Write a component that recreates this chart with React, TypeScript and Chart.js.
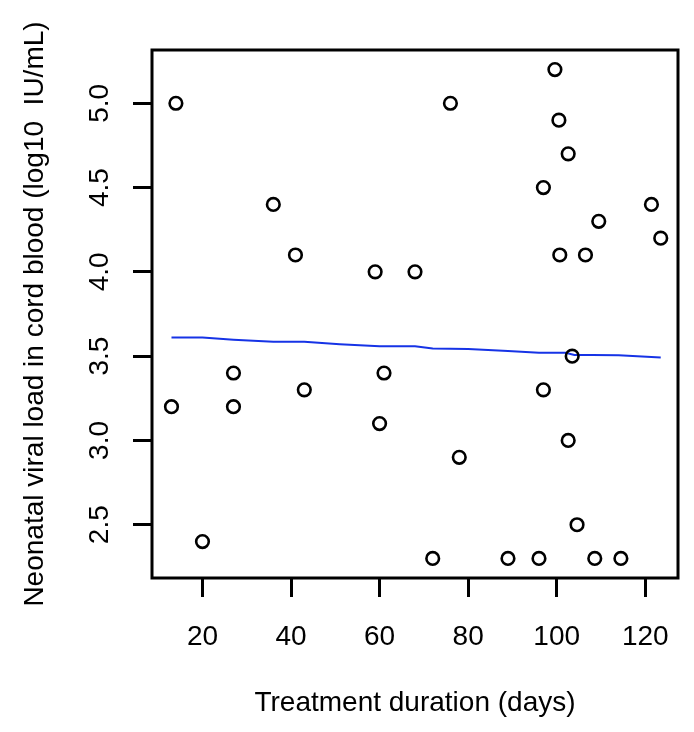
import React, { useEffect, useRef } from "react";
import { Chart, registerables } from "chart.js";

Chart.register(...registerables);

// Treatment duration (days) and neonatal viral load (log10 IU/mL)
const durationDays = [
  14, 13, 20, 27, 27, 36, 41, 43, 59, 61, 60, 68, 72, 76, 78, 89,
  96, 97, 97, 99.6, 100.5, 100.7, 102.6, 102.6, 103.5, 104.6, 106.5, 108.6, 109.5, 114.5, 121.4, 123.5,
];
const viralLoad = [
  5.0, 3.2, 2.4, 3.4, 3.2, 4.4, 4.1, 3.3, 4.0, 3.4, 3.1, 4.0, 2.3, 5.0, 2.9, 2.3,
  2.3, 4.5, 3.3, 5.2, 4.9, 4.1, 4.7, 3.0, 3.5, 2.5, 4.1, 2.3, 4.3, 2.3, 4.4, 4.2,
];

// Smoothed fit line
const smoothX = [13, 20, 27, 36, 43, 51, 60, 68, 72, 80, 89, 96, 102, 104, 108, 114, 123.5];
const smoothY = [3.61, 3.61, 3.597, 3.585, 3.585, 3.57, 3.558, 3.558, 3.545, 3.543, 3.53, 3.52, 3.52, 3.507, 3.507, 3.505, 3.492];

const xTicks = [20, 40, 60, 80, 100, 120];
const yTicks = [2.5, 3.0, 3.5, 4.0, 4.5, 5.0];

const xTitle = "Treatment duration (days)";
const yTitle = "Neonatal viral load in cord blood (log10  IU/mL)";

const FONT = "'Liberation Sans', Arial, Helvetica, sans-serif";

const boxPlugin = {
  id: "rbox",
  afterDraw(chart: any) {
    const { ctx, chartArea: a } = chart;
    ctx.save();
    ctx.strokeStyle = "#000";
    ctx.lineWidth = 3;
    ctx.strokeRect(a.left, a.top, a.right - a.left, a.bottom - a.top);
    ctx.restore();
  },
};

export default function App() {
  const ref = useRef<HTMLCanvasElement | null>(null);

  useEffect(() => {
    if (!ref.current) return;
    const chart = new Chart(ref.current, {
      type: "scatter",
      data: {
        datasets: [
          {
            type: "scatter",
            data: durationDays.map((x, i) => ({ x, y: viralLoad[i] })),
            pointStyle: "circle",
            pointRadius: 6.3,
            pointBorderWidth: 2.6,
            pointBorderColor: "#000",
            pointBackgroundColor: "rgba(0,0,0,0)",
            borderColor: "#000",
            backgroundColor: "rgba(0,0,0,0)",
            clip: false,
          } as any,
          {
            type: "line",
            data: smoothX.map((x, i) => ({ x, y: smoothY[i] })),
            borderColor: "#1633e6",
            borderWidth: 2,
            pointRadius: 0,
            tension: 0,
            fill: false,
            showLine: true,
          } as any,
        ],
      },
      options: {
        animation: false,
        responsive: false,
        devicePixelRatio: 1,
        layout: { padding: { top: 50, right: 16, left: 0, bottom: 0 } },
        plugins: { legend: { display: false }, tooltip: { enabled: false } },
        scales: {
          x: {
            type: "linear",
            min: 8.6,
            max: 127.4,
            afterBuildTicks: (s: any) => {
              s.ticks = xTicks.map((v) => ({ value: v }));
            },
            afterFit: (s: any) => {
              s.height = 154;
            },
            border: { display: false },
            grid: {
              drawOnChartArea: false,
              drawTicks: true,
              tickLength: 19,
              tickWidth: 3,
              tickColor: "#000",
            },
            ticks: {
              autoSkip: false,
              maxRotation: 0,
              minRotation: 0,
              padding: 23,
              color: "#000",
              font: { family: FONT, size: 28 },
              callback: (v: any) => String(v),
            },
            title: {
              display: true,
              text: xTitle,
              color: "#000",
              font: { family: FONT, size: 28 },
              padding: { top: 0, bottom: 12 },
            },
          },
          y: {
            type: "linear",
            min: 2.184,
            max: 5.316,
            afterBuildTicks: (s: any) => {
              s.ticks = yTicks.map((v) => ({ value: v }));
            },
            afterFit: (s: any) => {
              s.width = 152;
            },
            border: { display: false },
            grid: {
              drawOnChartArea: false,
              drawTicks: true,
              tickLength: 19,
              tickWidth: 3,
              tickColor: "#000",
            },
            ticks: {
              autoSkip: false,
              minRotation: 90,
              maxRotation: 90,
              crossAlign: "center",
              padding: 13,
              color: "#000",
              font: { family: FONT, size: 28 },
              callback: (v: any) => Number(v).toFixed(1),
            },
            title: {
              display: true,
              text: yTitle,
              color: "#000",
              font: { family: FONT, size: 28 },
              padding: { top: 18, bottom: 0 },
            },
          },
        },
      },
      plugins: [boxPlugin],
    });
    return () => chart.destroy();
  }, []);

  return (
    <div style={{ position: "absolute", left: 0, top: 0, width: 694, height: 732, background: "#fff" }}>
      <canvas ref={ref} width={694} height={732} style={{ display: "block", width: 694, height: 732 }} />
    </div>
  );
}
